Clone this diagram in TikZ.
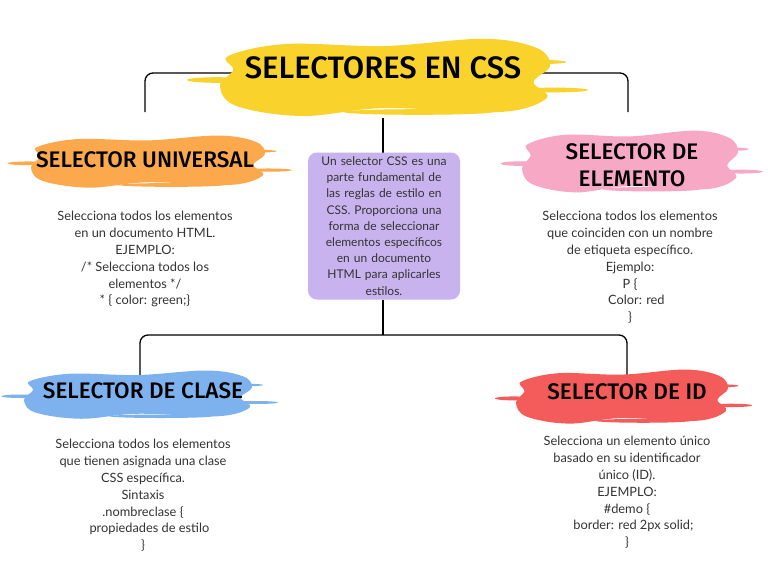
\documentclass[tikz,border=0pt]{standalone}
\usepackage{fontspec}
\setmainfont{Lato}
\newfontfamily\headf{Fira Sans Medium}
\begin{document}
\begin{tikzpicture}[x=1pt,y=-1pt,
 head/.style={font=\headf\fontsize{22.5}{27}\selectfont, text=black, align=center},
 body/.style={font=\fontsize{12.8}{16.8}\selectfont, text=black!80, align=center},
 conn/.style={draw=black, line width=1.3pt, rounded corners=8pt}]
\definecolor{cyel}{HTML}{F9D22B}
\definecolor{corg}{HTML}{FBA94C}
\definecolor{cpnk}{HTML}{F6A8C4}
\definecolor{cblu}{HTML}{7EB2EE}
\definecolor{cred}{HTML}{F45C5C}
\definecolor{cpur}{HTML}{C9B3EE}
\useasboundingbox[fill=white] (0,0) rectangle (768,576);
\newcommand\brush[5]{%
 \begin{scope}[shift={(#2,#3)}, xscale=#4, yscale=#5]
 \fill[#1] plot[smooth cycle, tension=0.6] coordinates {(-0.95,-0.55) (-0.6,-0.85) (0,-0.8) (0.6,-0.98) (0.92,-0.75) (1.0,-0.3) (0.9,0.1) (0.98,0.5) (0.7,0.85) (0,0.75) (-0.5,0.95) (-0.9,0.7) (-1,0.2) (-0.92,-0.2)};
 \fill[#1] (-1.02,0.05) ellipse (0.18 and 0.07);
 \fill[#1] (1.03,0.3) ellipse (0.2 and 0.06);
 \fill[#1] (0.95,-0.4) ellipse (0.15 and 0.05);
 \fill[#1] (0.2,0.85) ellipse (0.45 and 0.07);
 \end{scope}}
% connectors
\coordinate (tl) at (240,73); \coordinate (tr) at (525,73);
\coordinate (ul) at (145,112); \coordinate (er) at (628,112);
\coordinate (tb) at (383,118);
\coordinate (cl) at (140,378); \coordinate (ir) at (627,378);
\coordinate (jn) at (383,335);
\draw[conn] (tl) -| (ul);
\draw[conn] (tr) -| (er);
\draw[conn] (tb) -- (383,160);
\node[fill=cpur, rounded corners=9pt, minimum width=152pt, minimum height=147pt] (box) at (384,226) {};
\node[body, text width=152pt, font=\fontsize{12}{16.2}\selectfont, text=black!80] at (box) {Un selector CSS es una\\parte fundamental de\\las reglas de estilo en\\CSS. Proporciona una\\forma de seleccionar\\elementos específicos\\en un documento\\HTML para aplicarles\\estilos.};
\draw[conn] (box.south -| jn) -- (jn);
\draw[conn] (cl) |- (jn) -| (ir);
% brushes
\brush{cyel}{385}{78}{165}{40}
\brush{corg}{148}{162}{117}{27}
\brush{cpnk}{630}{162}{108}{32}
\brush{cblu}{138}{395}{114}{25}
\brush{cred}{622}{397}{106}{28}
\node[head, font=\headf\fontsize{31}{35}\selectfont] (title) at (383,68) {SELECTORES EN CSS};
\node[head] (uni) at (145,160) {SELECTOR UNIVERSAL};
\node[head] (ele) at (632,165) {SELECTOR DE\\ELEMENTO};
\node[head] (cla) at (143,391) {SELECTOR DE CLASE};
\node[head] (sid) at (627,392) {SELECTOR DE ID};
\node[body, anchor=north] (tu) at (145,208) {Selecciona todos los elementos\\en un documento HTML.\\EJEMPLO:\\/* Selecciona todos los\\elementos */\\* \{ color: green;\}};
\node[body, anchor=north] (te) at (630,208) {Selecciona todos los elementos\\que coinciden con un nombre\\de etiqueta específico.\\Ejemplo:\\P \{\\\quad Color: red\\\}};
\node[body, anchor=north] (tc) at (143,436) {Selecciona todos los elementos\\que tienen asignada una clase\\CSS específica.\\Sintaxis\\.nombreclase \{\\\quad propiedades de estilo\\\}};
\node[body, anchor=north] (ti) at (627,433) {Selecciona un elemento único\\basado en su identificador\\único (ID).\\EJEMPLO:\\\#demo \{\\\quad border: red 2px solid;\\\}};
\end{tikzpicture}
\end{document}
